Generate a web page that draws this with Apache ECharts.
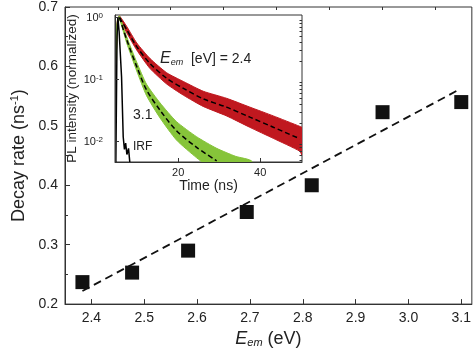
<!DOCTYPE html>
<html>
<head>
<meta charset="utf-8">
<script src="https://cdn.jsdelivr.net/npm/echarts@6/dist/echarts.min.js"></script>
<style>
  html, body { margin: 0; padding: 0; background: #fff; }
  #chart { width: 474px; height: 353px; }
</style>
</head>
<body>
<div id="chart"></div>
<script>
// main panel: decay rate vs emission energy
const energy = [2.383, 2.477, 2.583, 2.694, 2.817, 2.951, 3.1];
const decayRate = [0.237, 0.253, 0.290, 0.355, 0.400, 0.523, 0.540];
const fitEnergy = [2.383, 3.098];
const fitRate = [0.222, 0.562];
const energyTicks = [2.4, 2.5, 2.6, 2.7, 2.8, 2.9, 3.0, 3.1];
const energyMinorTicks = [2.35, 2.45, 2.55, 2.65, 2.75, 2.85, 2.95, 3.05];

// inset: PL decays (band = noisy trace envelope, fit = dashed line)
const redTime = [4.75, 5.3, 5.7, 7.45, 9.9, 13.1, 17.2, 21.3, 26.1, 31.8, 37.5, 43.2, 49.7, 50.2];
const redHigh = [0.5, 1.0, 1.06, 0.72, 0.39, 0.22, 0.129, 0.093, 0.065, 0.050, 0.036, 0.026, 0.0176, 0.017];
const redLow = [0.15, 0.8, 0.93, 0.57, 0.30, 0.152, 0.085, 0.056, 0.037, 0.026, 0.017, 0.0113, 0.0070, 0.006];
const redFitTime = [5.7, 7.45, 9.9, 13.1, 17.2, 21.3, 26.1, 31.8, 37.5, 43.2, 49.7];
const redFit = [1.0, 0.64, 0.34, 0.183, 0.105, 0.072, 0.049, 0.036, 0.0248, 0.0171, 0.0111];

const greenTime = [4.75, 5.3, 5.7, 7.45, 9.9, 12.3, 15.6, 19.6, 24.5, 29.4, 34, 38];
const greenHigh = [0.5, 1.0, 1.06, 0.49, 0.19, 0.084, 0.042, 0.021, 0.012, 0.0078, 0.0058, 0.0048];
const greenLow = [0.15, 0.8, 0.94, 0.39, 0.138, 0.055, 0.024, 0.0106, 0.0055, 0.0031, 0.002, 0.002];
const greenFitTime = [5.7, 7.45, 9.9, 12.3, 15.6, 19.6, 24.5, 29.4];
const greenFit = [1.0, 0.44, 0.162, 0.068, 0.032, 0.015, 0.0081, 0.0049];

const irfTime = [4.8, 5.1, 5.3, 5.6, 6.2, 6.6, 6.9, 7.2, 7.5, 7.9, 8.3];
const irfValue = [0.004, 0.5, 1.0, 0.6, 0.11, 0.012, 0.0075, 0.0095, 0.0062, 0.0078, 0.004];

const timeTicks = [20, 40];
const intensityMinorTicks = [0.005, 0.006, 0.007, 0.008, 0.009, 0.02, 0.03, 0.04, 0.05, 0.06, 0.07, 0.08, 0.09,
  0.2, 0.3, 0.4, 0.5, 0.6, 0.7, 0.8, 0.9];

const FONT = 'Liberation Sans, Arial, sans-serif';
const INK = '#222';

let chart = echarts.init(document.getElementById('chart'));

function zip(xs, ys) {
  return xs.map((x, i) => [x, ys[i]]);
}

// band drawn as polygon: upper envelope then lower envelope backwards
function bandSeries(name, time, high, low, color) {
  return {
    name: name,
    type: 'custom',
    xAxisIndex: 2,
    yAxisIndex: 1,
    z: 6,
    data: [[time[0], high[0]]],
    renderItem: function (params, api) {
      let pts = [];
      time.forEach((t, i) => pts.push(api.coord([t, high[i]])));
      for (let i = time.length - 1; i >= 0; i--) {
        pts.push(api.coord([time[i], low[i]]));
      }
      return {
        type: 'polygon',
        shape: {points: pts, smooth: 0.2},
        style: {fill: color, stroke: color, lineWidth: 1},
        clipPath: {
          type: 'rect',
          shape: {x: params.coordSys.x, y: params.coordSys.y, width: params.coordSys.width, height: params.coordSys.height}
        }
      };
    }
  };
}

function fitSeries(time, vals) {
  return {
    type: 'line',
    xAxisIndex: 2,
    yAxisIndex: 1,
    z: 7,
    data: zip(time, vals),
    showSymbol: false,
    smooth: 0.3,
    lineStyle: {color: '#000', width: 1.5, type: [5, 3]},
    silent: true
  };
}

chart.setOption({
  animation: false,
  textStyle: {fontFamily: FONT},
  grid: [
    {left: 65, right: 1, top: 5, bottom: 48, show: true, borderColor: '#333', borderWidth: 1},
    {left: 115, right: 172, top: 15, bottom: 191, show: true, backgroundColor: '#fff',
      borderColor: '#333', borderWidth: 1, z: 5}
  ],
  xAxis: [
    {
      type: 'value', gridIndex: 0, min: 2.35, max: 3.12,
      axisLine: {lineStyle: {color: '#333'}},
      axisTick: {inside: true, length: 5, customValues: energyTicks, lineStyle: {color: '#333'}},
      axisLabel: {customValues: energyTicks, margin: 7, fontSize: 14, color: INK, fontFamily: FONT,
        formatter: (v) => v.toFixed(1)},
      splitLine: {show: false},
      name: '{i|E}{sub|em} (eV)', nameLocation: 'middle', nameGap: 24,
      nameTextStyle: {
        fontSize: 18, color: INK, fontFamily: FONT,
        rich: {
          i: {fontSize: 18, fontStyle: 'italic', color: INK, fontFamily: FONT},
          sub: {fontSize: 11, fontStyle: 'italic', color: INK, verticalAlign: 'bottom', fontFamily: FONT}
        }
      }
    },
    {
      type: 'value', gridIndex: 0, min: 2.35, max: 3.12,
      axisLine: {show: false},
      axisTick: {inside: true, length: 3, customValues: energyMinorTicks, lineStyle: {color: '#333'}},
      axisLabel: {show: false},
      splitLine: {show: false}
    },
    {
      type: 'value', gridIndex: 1, min: 4.6, max: 50.2, z: 8,
      axisLine: {lineStyle: {color: '#333'}},
      axisTick: {inside: true, length: 4, customValues: timeTicks, lineStyle: {color: '#333'}},
      axisLabel: {customValues: timeTicks, margin: 5, fontSize: 11, color: INK, fontFamily: FONT},
      splitLine: {show: false},
      name: 'Time (ns)', nameLocation: 'middle', nameGap: 15,
      nameTextStyle: {fontSize: 14, color: INK, fontFamily: FONT}
    }
  ],
  yAxis: [
    {
      type: 'value', gridIndex: 0, min: 0.2, max: 0.7, interval: 0.1,
      axisLine: {show: true, lineStyle: {color: '#333'}},
      axisTick: {inside: true, length: 5, lineStyle: {color: '#333'}},
      minorTick: {show: true, splitNumber: 2, length: 3, lineStyle: {color: '#333'}},
      axisLabel: {margin: 7, fontSize: 14, color: INK, fontFamily: FONT, formatter: (v) => v.toFixed(1)},
      splitLine: {show: false},
      name: 'Decay rate (ns{sup|-1})', nameLocation: 'middle', nameGap: 36,
      nameTextStyle: {
        fontSize: 18, color: INK, fontFamily: FONT,
        rich: {sup: {fontSize: 11, verticalAlign: 'top', color: INK, fontFamily: FONT}}
      }
    },
    {
      type: 'log', logBase: 10, gridIndex: 1, min: 0.0047, max: 1.1, z: 8,
      axisLine: {show: true, lineStyle: {color: '#333'}},
      axisTick: {inside: true, length: 4, lineStyle: {color: '#333'}},
      axisLabel: {
        margin: 12, fontSize: 11, color: INK, fontFamily: FONT, showMinLabel: false, showMaxLabel: false,
        formatter: (v) => '10{sup|' + Math.round(Math.log10(v)) + '}',
        rich: {sup: {fontSize: 8, verticalAlign: 'top', color: INK, fontFamily: FONT}}
      },
      splitLine: {show: false},
      name: 'PL intensity (normalized)', nameLocation: 'middle', nameGap: 35,
      nameTextStyle: {fontSize: 13.5, color: INK, fontFamily: FONT}
    },
    {
      type: 'log', logBase: 10, gridIndex: 1, min: 0.0047, max: 1.1, z: 8,
      axisLine: {show: false},
      axisTick: {inside: true, length: 2.5, customValues: intensityMinorTicks, lineStyle: {color: '#333'}},
      axisLabel: {show: false},
      splitLine: {show: false}
    }
  ],
  series: [
    {
      type: 'line', xAxisIndex: 0, yAxisIndex: 0, z: 2,
      data: zip(fitEnergy, fitRate),
      showSymbol: false,
      lineStyle: {color: '#111', width: 1.8, type: [8, 5]},
      silent: true
    },
    {
      type: 'scatter', xAxisIndex: 0, yAxisIndex: 0, z: 3,
      data: zip(energy, decayRate),
      symbol: 'rect', symbolSize: 14,
      itemStyle: {color: '#111', opacity: 1}
    },
    bandSeries('2.4', redTime, redHigh, redLow, '#c0181f'),
    bandSeries('3.1', greenTime, greenHigh, greenLow, '#86c43a'),
    {
      type: 'line', xAxisIndex: 2, yAxisIndex: 1, z: 7,
      data: zip(irfTime, irfValue),
      showSymbol: false,
      lineStyle: {color: '#000', width: 1.5},
      silent: true
    },
    fitSeries(redFitTime, redFit),
    fitSeries(greenFitTime, greenFit)
  ],
  graphic: [
    {
      type: 'text', left: 160, top: 51, z: 20,
      style: {
        text: '{i|E}{sub|em}  [eV] = 2.4',
        fill: INK, font: '14px ' + FONT,
        rich: {
          i: {fontSize: 16, fontStyle: 'italic', fill: INK, fontFamily: FONT},
          sub: {fontSize: 9, fontStyle: 'italic', fill: INK, verticalAlign: 'bottom', fontFamily: FONT}
        }
      }
    },
    {type: 'text', left: 133, top: 108, z: 20, style: {text: '3.1', fill: INK, font: '14px ' + FONT}},
    {type: 'text', left: 133, top: 141, z: 20, style: {text: 'IRF', fill: INK, font: '12px ' + FONT}}
  ]
});
</script>
</body>
</html>
